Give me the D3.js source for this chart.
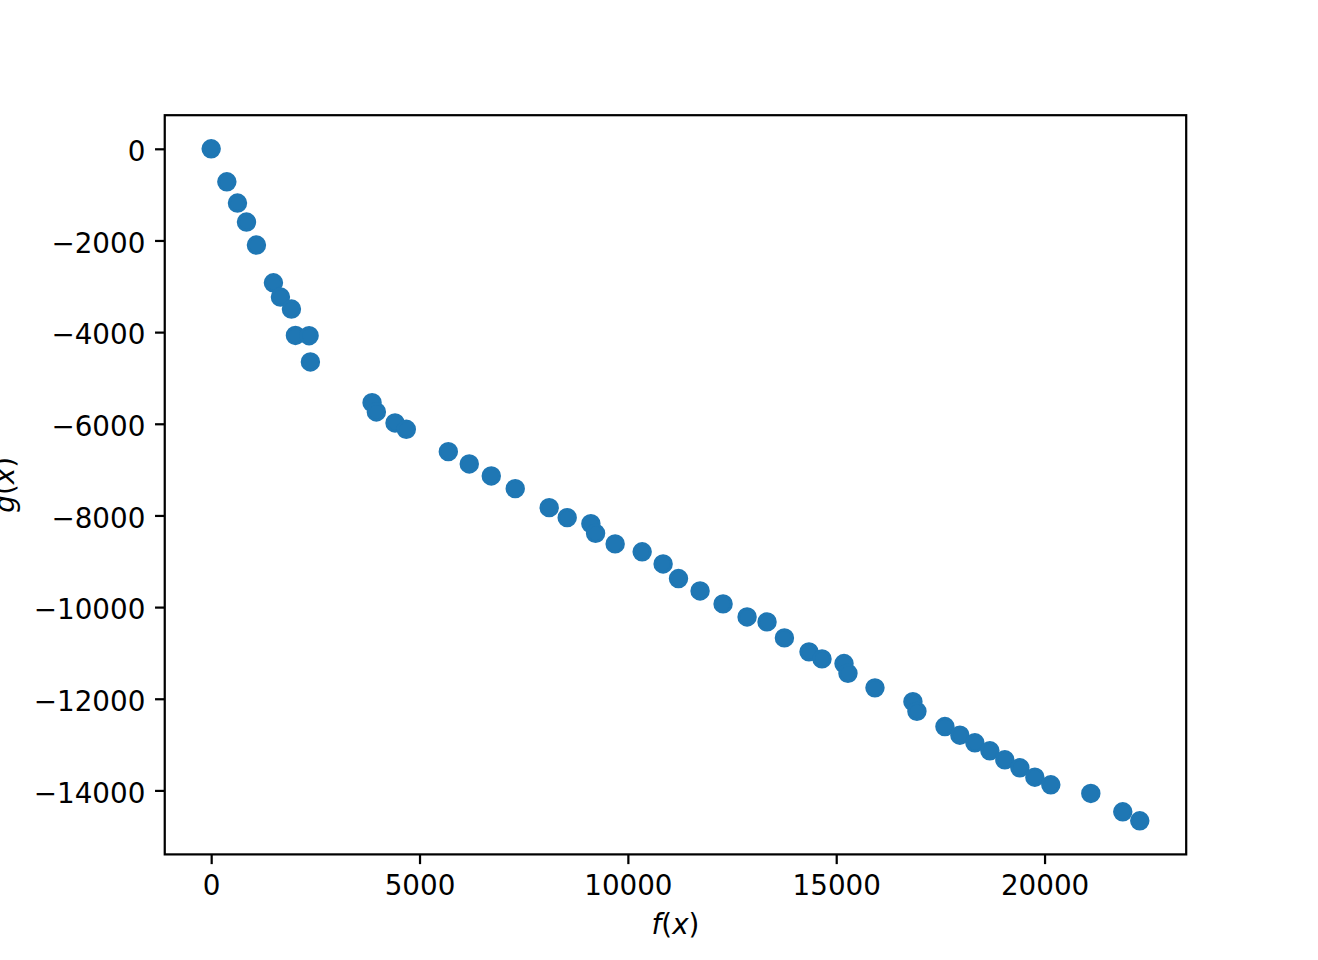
<!DOCTYPE html>
<html>
<head>
<meta charset="utf-8">
<script src="https://cdn.jsdelivr.net/npm/d3@7/dist/d3.min.js"></script>
<style>
  html, body { margin: 0; padding: 0; background: #fff; }
  svg { display: block; }
  text { font-family: "DejaVu Sans", sans-serif; fill: #000; }
</style>
</head>
<body>
<svg id="chart" width="1318" height="960"></svg>
<script>
// f(x) values
const fx = [0, 376, 631, 847, 1086, 1494, 1662, 1926, 2022, 2350,
  2381, 3861, 3964, 4412, 4683, 5691, 6194, 6722, 7297, 8112,
  8544, 9112, 9225, 9695, 10343, 10846, 11215, 11733, 12285, 12861,
  13340, 13757, 14347, 14659, 15187, 15282, 15930, 16841, 16937, 17609,
  17968, 18328, 18688, 19047, 19407, 19767, 20150, 21110, 21877, 22285];
// g(x) values
const gx = [0, -720, -1184, -1599, -2100, -2923, -3235, -3496, -4072, -4078,
  -4652, -5540, -5743, -5983, -6121, -6608, -6877, -7138, -7415, -7830,
  -8048, -8179, -8390, -8621, -8794, -9058, -9378, -9647, -9930, -10214,
  -10323, -10672, -10977, -11130, -11232, -11444, -11762, -12065, -12275, -12606,
  -12796, -12961, -13136, -13332, -13507, -13712, -13878, -14067, -14466, -14663];
const xTicks = [0, 5000, 10000, 15000, 20000];
const yTicks = [0, -2000, -4000, -6000, -8000, -10000, -12000, -14000];
const xLabel = "f(x)";
const yLabel = "g(x)";

(function () {
const W = 1318, H = 960;
const pL = 0.125 * W, pR = 0.9 * W, pT = 0.12 * H, pB = 0.89 * H;
const pt = 200 / 72;
const fs = 10 * pt;

function padded(ext) {
  const span = ext[1] - ext[0];
  return [ext[0] - 0.05 * span, ext[1] + 0.05 * span];
}
const x = d3.scaleLinear().domain(padded(d3.extent(fx))).range([pL, pR]);
const y = d3.scaleLinear().domain(padded(d3.extent(gx))).range([pB, pT]);

const svg = d3.select("#chart");
const fmt = d3.format("d");
const minusFmt = v => (v < 0 ? "\u2212" : "") + fmt(Math.abs(v));

// points
svg.append("g").selectAll("circle")
  .data(fx.map((v, i) => [v, gx[i]]))
  .join("circle")
  .attr("cx", d => x(d[0]))
  .attr("cy", d => y(d[1]))
  .attr("r", 3 * pt)
  .attr("fill", "#1f77b4")
  .attr("stroke", "#1f77b4")
  .attr("stroke-width", 1 * pt);

// x axis
const xAxis = d3.axisBottom(x).tickValues(xTicks).tickFormat(minusFmt)
  .tickSize(3.5 * pt).tickPadding(3.5 * pt);
const gX = svg.append("g").attr("transform", `translate(0,${pB})`).call(xAxis);
gX.select(".domain").remove();
gX.selectAll(".tick line").attr("stroke", "#000").attr("stroke-width", 0.8 * pt);
gX.selectAll(".tick text").attr("font-size", fs).attr("font-family", "DejaVu Sans")
  .attr("fill", "#000").attr("dy", null).attr("y", 7 * pt + 0.76 * fs + 0.5);

// y axis
const yAxis = d3.axisLeft(y).tickValues(yTicks).tickFormat(minusFmt)
  .tickSize(3.5 * pt).tickPadding(3.5 * pt);
const gY = svg.append("g").attr("transform", `translate(${pL},0)`).call(yAxis);
gY.select(".domain").remove();
gY.selectAll(".tick line").attr("stroke", "#000").attr("stroke-width", 0.8 * pt);
gY.selectAll(".tick text").attr("font-size", fs).attr("font-family", "DejaVu Sans")
  .attr("fill", "#000").attr("dy", "0.42em");

// frame
svg.append("rect")
  .attr("x", pL).attr("y", pT)
  .attr("width", pR - pL).attr("height", pB - pT)
  .attr("fill", "none").attr("stroke", "#000").attr("stroke-width", 0.8 * pt);

// axis labels (mathtext-like: italic letters, upright parens)
function mathLabel(sel, s) {
  const parts = s.split(/([()])/).filter(p => p.length);
  parts.forEach(p => {
    sel.append("tspan").text(p)
      .attr("font-style", /[()]/.test(p) ? "normal" : "italic");
  });
}
const xl = svg.append("text")
  .attr("x", (pL + pR) / 2).attr("y", 934)
  .attr("text-anchor", "middle").attr("font-size", fs);
mathLabel(xl, xLabel);

const yl = svg.append("text")
  .attr("transform", `translate(14,${(pT + pB) / 2}) rotate(-90)`)
  .attr("text-anchor", "middle").attr("font-size", fs);
mathLabel(yl, yLabel);
})();
</script>
</body>
</html>
